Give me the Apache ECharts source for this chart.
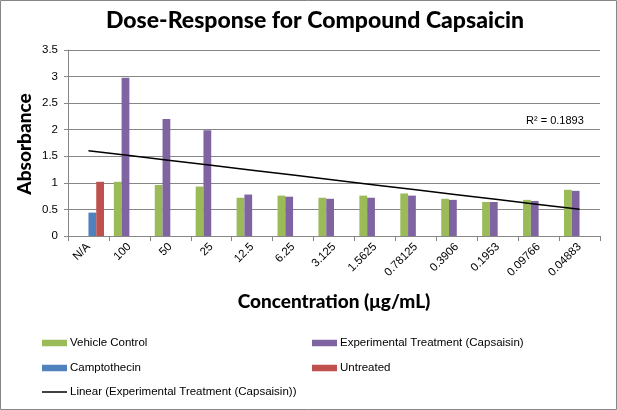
<!DOCTYPE html>
<html>
<head>
<meta charset="utf-8">
<script src="https://cdn.jsdelivr.net/npm/echarts@6/dist/echarts.min.js"></script>
<style>
html,body{margin:0;padding:0;background:#fff;}
#c{width:617px;height:410px;}
</style>
</head>
<body>
<div id="c"></div>
<script>
const categories = ['N/A','100','50','25','12.5','6.25','3.125','1.5625','0.78125','0.3906','0.1953','0.09766','0.04883'];
const vehicleControl = [null,1.02,0.96,0.93,0.72,0.76,0.72,0.76,0.80,0.70,0.64,0.68,0.87];
const experimental = [null,2.98,2.20,1.99,0.78,0.74,0.70,0.72,0.76,0.68,0.64,0.66,0.85];
const camptothecin = [0.44,null,null,null,null,null,null,null,null,null,null,null,null];
const untreated = [1.02,null,null,null,null,null,null,null,null,null,null,null,null];
const yTicks = [0,0.5,1,1.5,2,2.5,3,3.5];
const r2Label = 'R² = 0.1893';

// Linear trendline of experimental series (blank treated as 0, x = 1..n)
const n = experimental.length;
const xs = experimental.map((v,i)=>i+1);
const ys = experimental.map(v=>v==null?0:v);
const mx = xs.reduce((a,b)=>a+b,0)/n, my = ys.reduce((a,b)=>a+b,0)/n;
let sxy=0,sxx=0;
for(let i=0;i<n;i++){sxy+=(xs[i]-mx)*(ys[i]-my);sxx+=(xs[i]-mx)**2;}
const slope=sxy/sxx, icpt=my-slope*mx;
const trend = xs.map(x=>+(icpt+slope*x).toFixed(4));

const chart = echarts.init(document.getElementById('c'), null, {renderer:'canvas'});
const lblFont = {fontFamily:'"Liberation Sans", Arial, sans-serif', fontSize:11.5, color:'#000'};
function leg(name, left, top, isLine){
  return {
    data:[{name:name, icon:'rect'}],
    left:left, top:top, orient:'horizontal',
    itemWidth:25, itemHeight: isLine ? 1.5 : 6.5, itemGap:0,
    textStyle:Object.assign({padding:[0,0,0,-2]}, lblFont),
    selectedMode:false
  };
}
chart.setOption({
  animation:false,
  backgroundColor:'#fff',
  title:{
    text:'Dose-Response for Compound Capsaicin',
    left:310, top:4, textAlign:'center',
    textStyle:{fontFamily:'Lato, sans-serif', fontWeight:900, fontSize:23, color:'#000'}
  },
  legend:[
    leg('Vehicle Control',37,332,false),
    leg('Experimental Treatment (Capsaisin)',307,332,false),
    leg('Camptothecin',37,357,false),
    leg('Untreated',307,357,false),
    leg('Linear (Experimental Treatment (Capsaisin))',37,381,true)
  ],
  grid:{left:68, right:17, top:50, bottom:174, containLabel:false},
  xAxis:{
    type:'category', data:categories,
    axisLine:{lineStyle:{color:'#868686',width:1}},
    axisTick:{show:true, length:5, alignWithLabel:false, lineStyle:{color:'#868686'}},
    axisLabel:Object.assign({rotate:45, margin:9, interval:0}, lblFont),
  },
  yAxis:{
    type:'value', min:0, max:3.5, interval:0.5,
    axisLine:{show:true, lineStyle:{color:'#868686',width:1}},
    axisTick:{show:true, length:4, lineStyle:{color:'#868686'}},
    splitLine:{lineStyle:{color:'#868686',width:1}},
    axisLabel:Object.assign({margin:10, formatter:v=>yTicks.includes(v)?String(v):''}, lblFont)
  },
  graphic:[
    {type:'rect', shape:{x:0.5,y:0.5,width:616,height:409}, style:{fill:'none', stroke:'#868686', lineWidth:1}, silent:true},
    {type:'text', x:25, y:144, rotation:Math.PI/2, style:{text:'Absorbance', fill:'#000', font:'900 19px Lato, sans-serif', textAlign:'center', textVerticalAlign:'middle'}},
    {type:'text', x:334, y:302, style:{text:'Concentration (μg/mL)', fill:'#000', font:'900 19px Lato, sans-serif', textAlign:'center', textVerticalAlign:'middle'}},
    {type:'text', x:526, y:121, style:{text:r2Label, fill:'#000', font:'11px "Liberation Sans", sans-serif', textAlign:'left', textVerticalAlign:'middle'}}
  ],
  series:[
    {name:'Vehicle Control', type:'bar', data:vehicleControl, itemStyle:{color:'#9BBB59'}, barGap:'0%', barCategoryGap:'24%'},
    {name:'Experimental Treatment (Capsaisin)', type:'bar', data:experimental, itemStyle:{color:'#8064A2'}, barGap:'0%', barCategoryGap:'24%'},
    {name:'Camptothecin', type:'bar', data:camptothecin, itemStyle:{color:'#4F81BD'}, barGap:'0%', barCategoryGap:'24%'},
    {name:'Untreated', type:'bar', data:untreated, itemStyle:{color:'#C0504D'}, barGap:'0%', barCategoryGap:'24%'},
    {name:'Linear (Experimental Treatment (Capsaisin))', type:'line', data:trend, symbol:'none', itemStyle:{color:'#000'}, lineStyle:{color:'#000', width:1.5}, z:5}
  ]
});
</script>
</body>
</html>
